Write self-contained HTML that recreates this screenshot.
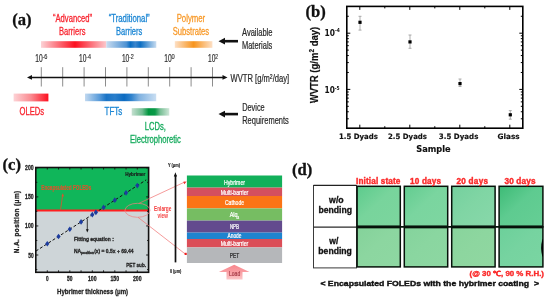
<!DOCTYPE html>
<html><head><meta charset="utf-8"><title>Figure</title>
<style>html,body{margin:0;padding:0;background:#fff;}svg{display:block;}</style></head>
<body><svg width="550" height="300" viewBox="0 0 550 300">
<rect width="550" height="300" fill="#fff"/>
<text x="12.2" y="25.3" font-size="16.6" fill="#111" font-weight="bold" font-family="'Liberation Serif', 'Times New Roman', serif" text-anchor="start"  stroke="#111" stroke-width="0.3">(a)</text>
<text x="305.6" y="16.6" font-size="16.6" fill="#111" font-weight="bold" font-family="'Liberation Serif', 'Times New Roman', serif" text-anchor="start"  stroke="#111" stroke-width="0.3">(b)</text>
<text x="2.6" y="170.0" font-size="16.6" fill="#111" font-weight="bold" font-family="'Liberation Serif', 'Times New Roman', serif" text-anchor="start"  stroke="#111" stroke-width="0.3">(c)</text>
<text x="292.1" y="175.2" font-size="16.6" fill="#111" font-weight="bold" font-family="'Liberation Serif', 'Times New Roman', serif" text-anchor="start"  stroke="#111" stroke-width="0.3">(d)</text>
<defs>
<linearGradient id="gRed" x1="0" x2="1"><stop offset="0" stop-color="#fcd3d6"/><stop offset="0.52" stop-color="#fc1020"/><stop offset="1" stop-color="#fcc8cc"/></linearGradient>
<linearGradient id="gBlue" x1="0" x2="1"><stop offset="0" stop-color="#c8dcf0"/><stop offset="0.4" stop-color="#4f93d3"/><stop offset="0.48" stop-color="#0a6dc2"/><stop offset="0.58" stop-color="#3d86cc"/><stop offset="0.68" stop-color="#0c6ec2"/><stop offset="1" stop-color="#c6dbf0"/></linearGradient>
<linearGradient id="gOr" x1="0" x2="1"><stop offset="0" stop-color="#fde0c6"/><stop offset="0.5" stop-color="#f7941d"/><stop offset="1" stop-color="#fde0c6"/></linearGradient>
<linearGradient id="gOled" x1="0" x2="1"><stop offset="0" stop-color="#fdd3d6"/><stop offset="0.5" stop-color="#fa8a90"/><stop offset="1" stop-color="#fd0f1f"/></linearGradient>
<linearGradient id="gTft" x1="0" x2="1"><stop offset="0" stop-color="#c2d9f0"/><stop offset="0.2" stop-color="#5a9cda"/><stop offset="0.3" stop-color="#1a74c6"/><stop offset="0.42" stop-color="#2a7ecb"/><stop offset="0.55" stop-color="#0c6bc1"/><stop offset="0.65" stop-color="#2f82cd"/><stop offset="0.76" stop-color="#7fb1e0"/><stop offset="1" stop-color="#c9def2"/></linearGradient>
<linearGradient id="gLcd" x1="0" x2="1"><stop offset="0" stop-color="#c5e0d0"/><stop offset="0.28" stop-color="#72bd92"/><stop offset="0.45" stop-color="#00963f"/><stop offset="0.62" stop-color="#0a9a48"/><stop offset="0.76" stop-color="#78bf95"/><stop offset="1" stop-color="#d0e7d9"/></linearGradient>
<linearGradient id="gLoad" x1="0" x2="0" y1="0" y2="1"><stop offset="0" stop-color="#f8868c"/><stop offset="0.5" stop-color="#f99ea3"/><stop offset="1" stop-color="#fcc6c8"/></linearGradient>
</defs>
<rect x="41" y="41.2" width="65.3" height="6.6" fill="url(#gRed)"/>
<rect x="106.3" y="41.2" width="50" height="6.6" fill="url(#gBlue)"/>
<rect x="174.8" y="41.2" width="37.6" height="6.6" fill="url(#gOr)"/>
<rect x="13.6" y="93.6" width="34.8" height="7.8" fill="url(#gOled)"/>
<rect x="85" y="93.6" width="71.2" height="7.6" fill="url(#gTft)"/>
<rect x="131.7" y="108.2" width="37.6" height="7.4" fill="url(#gLcd)"/>
<text x="53" y="21.8" font-size="10.6" fill="#f8242f" font-weight="normal" font-family="'Liberation Sans', Arial, sans-serif" text-anchor="start" textLength="39" lengthAdjust="spacingAndGlyphs"  stroke="#f8242f" stroke-width="0.3">“Advanced”</text>
<text x="59" y="35" font-size="10.6" fill="#f8242f" font-weight="normal" font-family="'Liberation Sans', Arial, sans-serif" text-anchor="start" textLength="26.5" lengthAdjust="spacingAndGlyphs"  stroke="#f8242f" stroke-width="0.3">Barriers</text>
<text x="108.7" y="22" font-size="10.6" fill="#1b86d4" font-weight="normal" font-family="'Liberation Sans', Arial, sans-serif" text-anchor="start" textLength="41" lengthAdjust="spacingAndGlyphs"  stroke="#1b86d4" stroke-width="0.3">“Traditional”</text>
<text x="116" y="35.3" font-size="10.6" fill="#1b86d4" font-weight="normal" font-family="'Liberation Sans', Arial, sans-serif" text-anchor="start" textLength="26.3" lengthAdjust="spacingAndGlyphs"  stroke="#1b86d4" stroke-width="0.3">Barriers</text>
<text x="176.7" y="21.5" font-size="10.6" fill="#f89a2a" font-weight="normal" font-family="'Liberation Sans', Arial, sans-serif" text-anchor="start" textLength="28.5" lengthAdjust="spacingAndGlyphs"  stroke="#f89a2a" stroke-width="0.3">Polymer</text>
<text x="172.7" y="35" font-size="10.6" fill="#f89a2a" font-weight="normal" font-family="'Liberation Sans', Arial, sans-serif" text-anchor="start" textLength="36.5" lengthAdjust="spacingAndGlyphs"  stroke="#f89a2a" stroke-width="0.3">Substrates</text>
<text x="242" y="35.9" font-size="10.6" fill="#2a2a2a" font-weight="normal" font-family="'Liberation Sans', Arial, sans-serif" text-anchor="start" textLength="30.5" lengthAdjust="spacingAndGlyphs"  stroke="#2a2a2a" stroke-width="0.22">Available</text>
<text x="242" y="48.5" font-size="10.6" fill="#2a2a2a" font-weight="normal" font-family="'Liberation Sans', Arial, sans-serif" text-anchor="start" textLength="30.3" lengthAdjust="spacingAndGlyphs"  stroke="#2a2a2a" stroke-width="0.22">Materials</text>
<text x="230.6" y="82" font-size="10.6" fill="#2a2a2a" font-weight="normal" font-family="'Liberation Sans', Arial, sans-serif" text-anchor="start" textLength="58.5" lengthAdjust="spacingAndGlyphs"  stroke="#2a2a2a" stroke-width="0.22">WVTR [g/m<tspan font-size="7" dy="-3.5">2</tspan><tspan dy="3.5">/day]</tspan></text>
<text x="19.6" y="114.6" font-size="10.6" fill="#f8242f" font-weight="normal" font-family="'Liberation Sans', Arial, sans-serif" text-anchor="start" textLength="24.6" lengthAdjust="spacingAndGlyphs"  stroke="#f8242f" stroke-width="0.3">OLEDs</text>
<text x="104.5" y="115" font-size="10.6" fill="#1b86d4" font-weight="normal" font-family="'Liberation Sans', Arial, sans-serif" text-anchor="start" textLength="17.8" lengthAdjust="spacingAndGlyphs"  stroke="#1b86d4" stroke-width="0.3">TFTs</text>
<text x="144.7" y="129.6" font-size="10.6" fill="#14aa5c" font-weight="normal" font-family="'Liberation Sans', Arial, sans-serif" text-anchor="start" textLength="21.2" lengthAdjust="spacingAndGlyphs"  stroke="#14aa5c" stroke-width="0.3">LCDs,</text>
<text x="129.9" y="142.7" font-size="10.6" fill="#14aa5c" font-weight="normal" font-family="'Liberation Sans', Arial, sans-serif" text-anchor="start" textLength="51" lengthAdjust="spacingAndGlyphs"  stroke="#14aa5c" stroke-width="0.3">Electrophoretic</text>
<text x="242.2" y="110.5" font-size="10.6" fill="#2a2a2a" font-weight="normal" font-family="'Liberation Sans', Arial, sans-serif" text-anchor="start" textLength="22.5" lengthAdjust="spacingAndGlyphs"  stroke="#2a2a2a" stroke-width="0.22">Device</text>
<text x="242.2" y="124.1" font-size="10.6" fill="#2a2a2a" font-weight="normal" font-family="'Liberation Sans', Arial, sans-serif" text-anchor="start" textLength="46.6" lengthAdjust="spacingAndGlyphs"  stroke="#2a2a2a" stroke-width="0.22">Requirements</text>
<text x="35.3" y="62.4" font-size="10.8" fill="#2a2a2a" font-weight="normal" font-family="'Liberation Sans', Arial, sans-serif" text-anchor="start" textLength="7.4" lengthAdjust="spacingAndGlyphs"  stroke="#2a2a2a" stroke-width="0.2">10</text>
<text x="42.4" y="59.2" font-size="7.4" fill="#2a2a2a" font-weight="normal" font-family="'Liberation Sans', Arial, sans-serif" text-anchor="start" textLength="5.0" lengthAdjust="spacingAndGlyphs"  stroke="#2a2a2a" stroke-width="0.15">-6</text>
<text x="79.1" y="62.4" font-size="10.8" fill="#2a2a2a" font-weight="normal" font-family="'Liberation Sans', Arial, sans-serif" text-anchor="start" textLength="7.4" lengthAdjust="spacingAndGlyphs"  stroke="#2a2a2a" stroke-width="0.2">10</text>
<text x="86.19999999999999" y="59.2" font-size="7.4" fill="#2a2a2a" font-weight="normal" font-family="'Liberation Sans', Arial, sans-serif" text-anchor="start" textLength="4.8" lengthAdjust="spacingAndGlyphs"  stroke="#2a2a2a" stroke-width="0.15">-4</text>
<text x="121.9" y="62.4" font-size="10.8" fill="#2a2a2a" font-weight="normal" font-family="'Liberation Sans', Arial, sans-serif" text-anchor="start" textLength="7.4" lengthAdjust="spacingAndGlyphs"  stroke="#2a2a2a" stroke-width="0.2">10</text>
<text x="129.0" y="59.2" font-size="7.4" fill="#2a2a2a" font-weight="normal" font-family="'Liberation Sans', Arial, sans-serif" text-anchor="start" textLength="4.8" lengthAdjust="spacingAndGlyphs"  stroke="#2a2a2a" stroke-width="0.15">-2</text>
<text x="164.3" y="62.4" font-size="10.8" fill="#2a2a2a" font-weight="normal" font-family="'Liberation Sans', Arial, sans-serif" text-anchor="start" textLength="7.4" lengthAdjust="spacingAndGlyphs"  stroke="#2a2a2a" stroke-width="0.2">10</text>
<text x="171.4" y="59.2" font-size="7.4" fill="#2a2a2a" font-weight="normal" font-family="'Liberation Sans', Arial, sans-serif" text-anchor="start" textLength="3.2" lengthAdjust="spacingAndGlyphs"  stroke="#2a2a2a" stroke-width="0.15">0</text>
<text x="208.1" y="62.4" font-size="10.8" fill="#2a2a2a" font-weight="normal" font-family="'Liberation Sans', Arial, sans-serif" text-anchor="start" textLength="7.4" lengthAdjust="spacingAndGlyphs"  stroke="#2a2a2a" stroke-width="0.2">10</text>
<text x="215.2" y="59.2" font-size="7.4" fill="#2a2a2a" font-weight="normal" font-family="'Liberation Sans', Arial, sans-serif" text-anchor="start" textLength="2.8" lengthAdjust="spacingAndGlyphs"  stroke="#2a2a2a" stroke-width="0.15">2</text>
<line x1="41.3" y1="67.2" x2="41.3" y2="86.5" stroke="#808080" stroke-width="0.9"/>
<line x1="62.7" y1="67.2" x2="62.7" y2="86.5" stroke="#808080" stroke-width="0.9"/>
<line x1="84.1" y1="67.2" x2="84.1" y2="86.5" stroke="#808080" stroke-width="0.9"/>
<line x1="105.5" y1="67.2" x2="105.5" y2="86.5" stroke="#808080" stroke-width="0.9"/>
<line x1="126.9" y1="67.2" x2="126.9" y2="86.5" stroke="#808080" stroke-width="0.9"/>
<line x1="148.3" y1="67.2" x2="148.3" y2="86.5" stroke="#808080" stroke-width="0.9"/>
<line x1="169.7" y1="67.2" x2="169.7" y2="86.5" stroke="#808080" stroke-width="0.9"/>
<line x1="191.1" y1="67.2" x2="191.1" y2="86.5" stroke="#808080" stroke-width="0.9"/>
<line x1="212.5" y1="67.2" x2="212.5" y2="86.5" stroke="#808080" stroke-width="0.9"/>
<line x1="30" y1="77.4" x2="224" y2="77.4" stroke="#111" stroke-width="1.5"/>
<path d="M27 77.4 L32 75 L32 79.8 Z" fill="#111"/>
<path d="M227.5 77.4 L222.5 75 L222.5 79.8 Z" fill="#111"/>
<line x1="223" y1="41.2" x2="238" y2="41.2" stroke="#111" stroke-width="2.6"/>
<path d="M218.5 41.2 L225 37.800000000000004 L225 44.6 Z" fill="#111"/>
<line x1="223" y1="114.1" x2="238" y2="114.1" stroke="#111" stroke-width="2.6"/>
<path d="M218.5 114.1 L225 110.69999999999999 L225 117.5 Z" fill="#111"/>
<rect x="346.8" y="6.4" width="175.99999999999994" height="121.79999999999998" fill="none" stroke="#000" stroke-width="1.6"/>
<line x1="346.8" y1="118.79" x2="348.8" y2="118.79" stroke="#000" stroke-width="1"/>
<line x1="522.8" y1="118.79" x2="520.8" y2="118.79" stroke="#000" stroke-width="1"/>
<line x1="346.8" y1="111.76" x2="348.8" y2="111.76" stroke="#000" stroke-width="1"/>
<line x1="522.8" y1="111.76" x2="520.8" y2="111.76" stroke="#000" stroke-width="1"/>
<line x1="346.8" y1="106.32" x2="348.8" y2="106.32" stroke="#000" stroke-width="1"/>
<line x1="522.8" y1="106.32" x2="520.8" y2="106.32" stroke="#000" stroke-width="1"/>
<line x1="346.8" y1="101.87" x2="348.8" y2="101.87" stroke="#000" stroke-width="1"/>
<line x1="522.8" y1="101.87" x2="520.8" y2="101.87" stroke="#000" stroke-width="1"/>
<line x1="346.8" y1="98.11" x2="348.8" y2="98.11" stroke="#000" stroke-width="1"/>
<line x1="522.8" y1="98.11" x2="520.8" y2="98.11" stroke="#000" stroke-width="1"/>
<line x1="346.8" y1="94.85" x2="348.8" y2="94.85" stroke="#000" stroke-width="1"/>
<line x1="522.8" y1="94.85" x2="520.8" y2="94.85" stroke="#000" stroke-width="1"/>
<line x1="346.8" y1="91.97" x2="348.8" y2="91.97" stroke="#000" stroke-width="1"/>
<line x1="522.8" y1="91.97" x2="520.8" y2="91.97" stroke="#000" stroke-width="1"/>
<line x1="346.8" y1="89.40" x2="350.3" y2="89.40" stroke="#000" stroke-width="1"/>
<line x1="522.8" y1="89.40" x2="519.3" y2="89.40" stroke="#000" stroke-width="1"/>
<line x1="346.8" y1="72.48" x2="348.8" y2="72.48" stroke="#000" stroke-width="1"/>
<line x1="522.8" y1="72.48" x2="520.8" y2="72.48" stroke="#000" stroke-width="1"/>
<line x1="346.8" y1="62.59" x2="348.8" y2="62.59" stroke="#000" stroke-width="1"/>
<line x1="522.8" y1="62.59" x2="520.8" y2="62.59" stroke="#000" stroke-width="1"/>
<line x1="346.8" y1="55.56" x2="348.8" y2="55.56" stroke="#000" stroke-width="1"/>
<line x1="522.8" y1="55.56" x2="520.8" y2="55.56" stroke="#000" stroke-width="1"/>
<line x1="346.8" y1="50.12" x2="348.8" y2="50.12" stroke="#000" stroke-width="1"/>
<line x1="522.8" y1="50.12" x2="520.8" y2="50.12" stroke="#000" stroke-width="1"/>
<line x1="346.8" y1="45.67" x2="348.8" y2="45.67" stroke="#000" stroke-width="1"/>
<line x1="522.8" y1="45.67" x2="520.8" y2="45.67" stroke="#000" stroke-width="1"/>
<line x1="346.8" y1="41.91" x2="348.8" y2="41.91" stroke="#000" stroke-width="1"/>
<line x1="522.8" y1="41.91" x2="520.8" y2="41.91" stroke="#000" stroke-width="1"/>
<line x1="346.8" y1="38.65" x2="348.8" y2="38.65" stroke="#000" stroke-width="1"/>
<line x1="522.8" y1="38.65" x2="520.8" y2="38.65" stroke="#000" stroke-width="1"/>
<line x1="346.8" y1="35.77" x2="348.8" y2="35.77" stroke="#000" stroke-width="1"/>
<line x1="522.8" y1="35.77" x2="520.8" y2="35.77" stroke="#000" stroke-width="1"/>
<line x1="346.8" y1="33.20" x2="350.3" y2="33.20" stroke="#000" stroke-width="1"/>
<line x1="522.8" y1="33.20" x2="519.3" y2="33.20" stroke="#000" stroke-width="1"/>
<line x1="346.8" y1="16.28" x2="348.8" y2="16.28" stroke="#000" stroke-width="1"/>
<line x1="522.8" y1="16.28" x2="520.8" y2="16.28" stroke="#000" stroke-width="1"/>
<line x1="359.8" y1="128.2" x2="359.8" y2="124.69999999999999" stroke="#000" stroke-width="1"/>
<line x1="359.8" y1="6.4" x2="359.8" y2="9.9" stroke="#000" stroke-width="1"/>
<line x1="384.8" y1="128.2" x2="384.8" y2="126.19999999999999" stroke="#000" stroke-width="1"/>
<line x1="384.8" y1="6.4" x2="384.8" y2="8.4" stroke="#000" stroke-width="1"/>
<line x1="409.8" y1="128.2" x2="409.8" y2="124.69999999999999" stroke="#000" stroke-width="1"/>
<line x1="409.8" y1="6.4" x2="409.8" y2="9.9" stroke="#000" stroke-width="1"/>
<line x1="434.8" y1="128.2" x2="434.8" y2="126.19999999999999" stroke="#000" stroke-width="1"/>
<line x1="434.8" y1="6.4" x2="434.8" y2="8.4" stroke="#000" stroke-width="1"/>
<line x1="459.8" y1="128.2" x2="459.8" y2="124.69999999999999" stroke="#000" stroke-width="1"/>
<line x1="459.8" y1="6.4" x2="459.8" y2="9.9" stroke="#000" stroke-width="1"/>
<line x1="484.8" y1="128.2" x2="484.8" y2="126.19999999999999" stroke="#000" stroke-width="1"/>
<line x1="484.8" y1="6.4" x2="484.8" y2="8.4" stroke="#000" stroke-width="1"/>
<line x1="509.8" y1="128.2" x2="509.8" y2="124.69999999999999" stroke="#000" stroke-width="1"/>
<line x1="509.8" y1="6.4" x2="509.8" y2="9.9" stroke="#000" stroke-width="1"/>
<line x1="360" y1="16.3" x2="360" y2="30.1" stroke="#999" stroke-width="0.8"/>
<line x1="358.5" y1="16.3" x2="361.5" y2="16.3" stroke="#999" stroke-width="0.8"/>
<line x1="358.5" y1="30.1" x2="361.5" y2="30.1" stroke="#999" stroke-width="0.8"/>
<rect x="358.4" y="20.7" width="3.2" height="3.2" fill="#000"/>
<line x1="410" y1="35" x2="410" y2="48.3" stroke="#999" stroke-width="0.8"/>
<line x1="408.5" y1="35" x2="411.5" y2="35" stroke="#999" stroke-width="0.8"/>
<line x1="408.5" y1="48.3" x2="411.5" y2="48.3" stroke="#999" stroke-width="0.8"/>
<rect x="408.4" y="40.3" width="3.2" height="3.2" fill="#000"/>
<line x1="460" y1="79" x2="460" y2="86.5" stroke="#999" stroke-width="0.8"/>
<line x1="458.5" y1="79" x2="461.5" y2="79" stroke="#999" stroke-width="0.8"/>
<line x1="458.5" y1="86.5" x2="461.5" y2="86.5" stroke="#999" stroke-width="0.8"/>
<rect x="458.4" y="82.0" width="3.2" height="3.2" fill="#000"/>
<line x1="510.3" y1="110.6" x2="510.3" y2="119.2" stroke="#999" stroke-width="0.8"/>
<line x1="508.8" y1="110.6" x2="511.8" y2="110.6" stroke="#999" stroke-width="0.8"/>
<line x1="508.8" y1="119.2" x2="511.8" y2="119.2" stroke="#999" stroke-width="0.8"/>
<rect x="508.7" y="113.2" width="3.2" height="3.2" fill="#000"/>
<text x="324.5" y="35.7" font-size="9.4" fill="#111" font-weight="bold" font-family="'DejaVu Sans', Verdana, sans-serif" text-anchor="start" textLength="15.4" lengthAdjust="spacingAndGlyphs" >10<tspan font-size="5.6" dy="-3.4">-4</tspan></text>
<text x="324.5" y="93.4" font-size="9.4" fill="#111" font-weight="bold" font-family="'DejaVu Sans', Verdana, sans-serif" text-anchor="start" textLength="15.2" lengthAdjust="spacingAndGlyphs" >10<tspan font-size="5.6" dy="-3.4">-5</tspan></text>
<text x="358.4" y="139" font-size="7.4" fill="#111" font-weight="bold" font-family="'DejaVu Sans', Verdana, sans-serif" text-anchor="middle" textLength="39" lengthAdjust="spacingAndGlyphs"  stroke="#111" stroke-width="0.15">1.5 Dyads</text>
<text x="407.5" y="139" font-size="7.4" fill="#111" font-weight="bold" font-family="'DejaVu Sans', Verdana, sans-serif" text-anchor="middle" textLength="39" lengthAdjust="spacingAndGlyphs"  stroke="#111" stroke-width="0.15">2.5 Dyads</text>
<text x="458.6" y="139" font-size="7.4" fill="#111" font-weight="bold" font-family="'DejaVu Sans', Verdana, sans-serif" text-anchor="middle" textLength="39.5" lengthAdjust="spacingAndGlyphs"  stroke="#111" stroke-width="0.15">3.5 Dyads</text>
<text x="508.6" y="139" font-size="7.4" fill="#111" font-weight="bold" font-family="'DejaVu Sans', Verdana, sans-serif" text-anchor="middle" textLength="22.3" lengthAdjust="spacingAndGlyphs"  stroke="#111" stroke-width="0.15">Glass</text>
<text x="433.5" y="152.3" font-size="8.4" fill="#111" font-weight="bold" font-family="'DejaVu Sans', Verdana, sans-serif" text-anchor="middle" textLength="34.4" lengthAdjust="spacingAndGlyphs"  stroke="#111" stroke-width="0.15">Sample</text>
<text transform="translate(317.8,65) rotate(-90)" font-size="10.3" font-weight="bold" font-family="'Liberation Sans', Arial, sans-serif" fill="#111" stroke="#111" stroke-width="0.15" text-anchor="middle" textLength="76.6" lengthAdjust="spacingAndGlyphs">WVTR (g/m<tspan font-size="7" dy="-3.9">2</tspan><tspan dy="3.9"> day)</tspan></text>
<rect x="35.8" y="167.5" width="112.8" height="43.0" fill="#10b65a"/>
<rect x="35.8" y="210.5" width="112.8" height="61.80000000000001" fill="#ced5d8"/>
<line x1="35.8" y1="210.5" x2="148.6" y2="210.5" stroke="#ff1f1f" stroke-width="2"/>
<line x1="35.8" y1="251.13" x2="146.2" y2="179.86" stroke="#111" stroke-width="1" stroke-dasharray="3,2"/>
<path d="M47.30 240.91 L49.40 243.71 L47.30 246.51 L45.20 243.71 Z" fill="#1d3c9e"/>
<path d="M58.55 233.64 L60.65 236.44 L58.55 239.24 L56.45 236.44 Z" fill="#1d3c9e"/>
<path d="M69.80 226.38 L71.90 229.18 L69.80 231.98 L67.70 229.18 Z" fill="#1d3c9e"/>
<path d="M81.05 219.12 L83.15 221.92 L81.05 224.72 L78.95 221.92 Z" fill="#1d3c9e"/>
<path d="M92.30 211.86 L94.40 214.66 L92.30 217.46 L90.20 214.66 Z" fill="#1d3c9e"/>
<path d="M95.90 209.53 L98.00 212.33 L95.90 215.13 L93.80 212.33 Z" fill="#1d3c9e"/>
<path d="M103.55 204.59 L105.65 207.39 L103.55 210.19 L101.45 207.39 Z" fill="#1d3c9e"/>
<path d="M114.80 197.33 L116.90 200.13 L114.80 202.93 L112.70 200.13 Z" fill="#1d3c9e"/>
<path d="M126.05 190.07 L128.15 192.87 L126.05 195.67 L123.95 192.87 Z" fill="#1d3c9e"/>
<path d="M137.30 182.81 L139.40 185.61 L137.30 188.41 L135.20 185.61 Z" fill="#1d3c9e"/>
<rect x="35.8" y="167.5" width="112.8" height="104.80000000000001" fill="none" stroke="#111" stroke-width="1.6"/>
<line x1="47.30" y1="272.3" x2="47.30" y2="270.3" stroke="#111" stroke-width="0.9"/>
<line x1="47.30" y1="167.5" x2="47.30" y2="169.5" stroke="#111" stroke-width="0.9"/>
<line x1="58.55" y1="272.3" x2="58.55" y2="270.3" stroke="#111" stroke-width="0.9"/>
<line x1="58.55" y1="167.5" x2="58.55" y2="169.5" stroke="#111" stroke-width="0.9"/>
<line x1="69.80" y1="272.3" x2="69.80" y2="270.3" stroke="#111" stroke-width="0.9"/>
<line x1="69.80" y1="167.5" x2="69.80" y2="169.5" stroke="#111" stroke-width="0.9"/>
<line x1="81.05" y1="272.3" x2="81.05" y2="270.3" stroke="#111" stroke-width="0.9"/>
<line x1="81.05" y1="167.5" x2="81.05" y2="169.5" stroke="#111" stroke-width="0.9"/>
<line x1="92.30" y1="272.3" x2="92.30" y2="270.3" stroke="#111" stroke-width="0.9"/>
<line x1="92.30" y1="167.5" x2="92.30" y2="169.5" stroke="#111" stroke-width="0.9"/>
<line x1="103.55" y1="272.3" x2="103.55" y2="270.3" stroke="#111" stroke-width="0.9"/>
<line x1="103.55" y1="167.5" x2="103.55" y2="169.5" stroke="#111" stroke-width="0.9"/>
<line x1="114.80" y1="272.3" x2="114.80" y2="270.3" stroke="#111" stroke-width="0.9"/>
<line x1="114.80" y1="167.5" x2="114.80" y2="169.5" stroke="#111" stroke-width="0.9"/>
<line x1="126.05" y1="272.3" x2="126.05" y2="270.3" stroke="#111" stroke-width="0.9"/>
<line x1="126.05" y1="167.5" x2="126.05" y2="169.5" stroke="#111" stroke-width="0.9"/>
<line x1="137.30" y1="272.3" x2="137.30" y2="270.3" stroke="#111" stroke-width="0.9"/>
<line x1="137.30" y1="167.5" x2="137.30" y2="169.5" stroke="#111" stroke-width="0.9"/>
<line x1="35.8" y1="269.52" x2="37.3" y2="269.52" stroke="#111" stroke-width="0.9"/>
<line x1="148.6" y1="269.52" x2="147.1" y2="269.52" stroke="#111" stroke-width="0.9"/>
<line x1="35.8" y1="255.00" x2="38.3" y2="255.00" stroke="#111" stroke-width="0.9"/>
<line x1="148.6" y1="255.00" x2="146.1" y2="255.00" stroke="#111" stroke-width="0.9"/>
<line x1="35.8" y1="240.47" x2="37.3" y2="240.47" stroke="#111" stroke-width="0.9"/>
<line x1="148.6" y1="240.47" x2="147.1" y2="240.47" stroke="#111" stroke-width="0.9"/>
<line x1="35.8" y1="225.95" x2="38.3" y2="225.95" stroke="#111" stroke-width="0.9"/>
<line x1="148.6" y1="225.95" x2="146.1" y2="225.95" stroke="#111" stroke-width="0.9"/>
<line x1="35.8" y1="211.43" x2="37.3" y2="211.43" stroke="#111" stroke-width="0.9"/>
<line x1="148.6" y1="211.43" x2="147.1" y2="211.43" stroke="#111" stroke-width="0.9"/>
<line x1="35.8" y1="196.90" x2="38.3" y2="196.90" stroke="#111" stroke-width="0.9"/>
<line x1="148.6" y1="196.90" x2="146.1" y2="196.90" stroke="#111" stroke-width="0.9"/>
<line x1="35.8" y1="182.38" x2="37.3" y2="182.38" stroke="#111" stroke-width="0.9"/>
<line x1="148.6" y1="182.38" x2="147.1" y2="182.38" stroke="#111" stroke-width="0.9"/>
<line x1="35.8" y1="167.85" x2="38.3" y2="167.85" stroke="#111" stroke-width="0.9"/>
<line x1="148.6" y1="167.85" x2="146.1" y2="167.85" stroke="#111" stroke-width="0.9"/>
<text x="33.6" y="257.5" font-size="7" fill="#222" font-weight="bold" font-family="'Liberation Sans', Arial, sans-serif" text-anchor="end" textLength="5.3" lengthAdjust="spacingAndGlyphs"  stroke="#222" stroke-width="0.3">50</text>
<text x="33.6" y="228.45" font-size="7" fill="#222" font-weight="bold" font-family="'Liberation Sans', Arial, sans-serif" text-anchor="end" textLength="8.5" lengthAdjust="spacingAndGlyphs"  stroke="#222" stroke-width="0.3">100</text>
<text x="33.6" y="199.4" font-size="7" fill="#222" font-weight="bold" font-family="'Liberation Sans', Arial, sans-serif" text-anchor="end" textLength="8.5" lengthAdjust="spacingAndGlyphs"  stroke="#222" stroke-width="0.3">150</text>
<text x="33.6" y="170.35000000000002" font-size="7" fill="#222" font-weight="bold" font-family="'Liberation Sans', Arial, sans-serif" text-anchor="end" textLength="8.5" lengthAdjust="spacingAndGlyphs"  stroke="#222" stroke-width="0.3">200</text>
<text x="47.3" y="281" font-size="7" fill="#222" font-weight="bold" font-family="'Liberation Sans', Arial, sans-serif" text-anchor="middle" textLength="2.6" lengthAdjust="spacingAndGlyphs"  stroke="#222" stroke-width="0.3">0</text>
<text x="69.8" y="281" font-size="7" fill="#222" font-weight="bold" font-family="'Liberation Sans', Arial, sans-serif" text-anchor="middle" textLength="5.4" lengthAdjust="spacingAndGlyphs"  stroke="#222" stroke-width="0.3">50</text>
<text x="92.3" y="281" font-size="7" fill="#222" font-weight="bold" font-family="'Liberation Sans', Arial, sans-serif" text-anchor="middle" textLength="8.6" lengthAdjust="spacingAndGlyphs"  stroke="#222" stroke-width="0.3">100</text>
<text x="114.8" y="281" font-size="7" fill="#222" font-weight="bold" font-family="'Liberation Sans', Arial, sans-serif" text-anchor="middle" textLength="8.6" lengthAdjust="spacingAndGlyphs"  stroke="#222" stroke-width="0.3">150</text>
<text x="137.3" y="281" font-size="7" fill="#222" font-weight="bold" font-family="'Liberation Sans', Arial, sans-serif" text-anchor="middle" textLength="8.6" lengthAdjust="spacingAndGlyphs"  stroke="#222" stroke-width="0.3">200</text>
<text x="92.6" y="294" font-size="7.6" fill="#222" font-weight="bold" font-family="'Liberation Sans', Arial, sans-serif" text-anchor="middle" textLength="71" lengthAdjust="spacingAndGlyphs"  stroke="#222" stroke-width="0.3">Hybrimer thickness (μm)</text>
<text transform="translate(18.9,222) rotate(-90)" font-size="6.4" font-weight="bold" font-family="'Liberation Sans', Arial, sans-serif" fill="#222" stroke="#222" stroke-width="0.3" text-anchor="middle" textLength="62.4" lengthAdjust="spacing">N.A. position (μm)</text>
<text x="145.4" y="175.8" font-size="6.1" fill="#1a1a1a" font-weight="bold" font-family="'Liberation Sans', Arial, sans-serif" text-anchor="end" textLength="20.2" lengthAdjust="spacingAndGlyphs"  stroke="#1a1a1a" stroke-width="0.2">Hybrimer</text>
<text x="41.3" y="189.6" font-size="6.5" fill="#e5512c" font-weight="bold" font-family="'Liberation Sans', Arial, sans-serif" text-anchor="start" textLength="50" lengthAdjust="spacingAndGlyphs"  stroke="#e5512c" stroke-width="0.12">Encapsulated FOLEDs</text>
<line x1="60.6" y1="209.5" x2="62.6" y2="195.5" stroke="#e0502c" stroke-width="0.8"/>
<path d="M62.9 193.2 L64 196.6 L61.4 196.3 Z" fill="#e0502c"/>
<line x1="87.3" y1="218.6" x2="87.3" y2="230" stroke="#111" stroke-width="0.8"/>
<path d="M87.3 232.5 L85.9 229.3 L88.7 229.3 Z" fill="#111"/>
<text x="73.9" y="241.1" font-size="6.2" fill="#222" font-weight="bold" font-family="'Liberation Sans', Arial, sans-serif" text-anchor="start" textLength="40" lengthAdjust="spacingAndGlyphs"  stroke="#222" stroke-width="0.3">Fitting equation :</text>
<text x="73.9" y="252.6" font-size="6.2" fill="#222" font-weight="bold" font-family="'Liberation Sans', Arial, sans-serif" text-anchor="start" textLength="59.7" lengthAdjust="spacingAndGlyphs"  stroke="#222" stroke-width="0.3">NA<tspan font-size="4.2" dy="1.5">position</tspan><tspan dy="-1.5">(x) = 0.5x + 69.44</tspan></text>
<text x="146" y="267.3" font-size="6.2" fill="#222" font-weight="bold" font-family="'Liberation Sans', Arial, sans-serif" text-anchor="end" textLength="19.7" lengthAdjust="spacingAndGlyphs"  stroke="#222" stroke-width="0.3">PET sub.</text>
<ellipse cx="137.5" cy="210.3" rx="12.5" ry="7" fill="none" stroke="#f08080" stroke-width="0.7"/>
<line x1="139" y1="203.3" x2="185" y2="181.9" stroke="#f07070" stroke-width="0.7"/>
<path d="M186.6 181.4 L183.2 181.7 L184.4 184.2 Z" fill="#f03030"/>
<line x1="138" y1="217.3" x2="185" y2="253.8" stroke="#f07070" stroke-width="0.7"/>
<rect x="184.6" y="252.8" width="2.2" height="2.2" fill="#f02020"/>
<text x="162.7" y="210.6" font-size="6.8" fill="#f43c3c" font-weight="bold" font-family="'Liberation Sans', Arial, sans-serif" text-anchor="middle" textLength="17.4" lengthAdjust="spacingAndGlyphs" >Enlarge</text>
<text x="162.7" y="217.6" font-size="6.8" fill="#f43c3c" font-weight="bold" font-family="'Liberation Sans', Arial, sans-serif" text-anchor="middle" textLength="10.2" lengthAdjust="spacingAndGlyphs" >view</text>
<line x1="175.5" y1="175" x2="175.5" y2="262.4" stroke="#111" stroke-width="1.7"/>
<path d="M175.4 172.3 L173.8 176.5 L177 176.5 Z" fill="#111"/>
<text x="174" y="166.7" font-size="5.0" fill="#1a1a1a" font-weight="bold" font-family="'Liberation Sans', Arial, sans-serif" text-anchor="middle" textLength="12.2" lengthAdjust="spacingAndGlyphs"  stroke="#1a1a1a" stroke-width="0.15">Y (μm)</text>
<text x="175.6" y="273.0" font-size="5.0" fill="#1a1a1a" font-weight="bold" font-family="'Liberation Sans', Arial, sans-serif" text-anchor="middle" textLength="11.4" lengthAdjust="spacingAndGlyphs"  stroke="#1a1a1a" stroke-width="0.15">0 (μm)</text>
<rect x="186.9" y="175.5" width="95.2" height="12.10" fill="#12b05a"/>
<rect x="186.9" y="187.6" width="95.2" height="8.40" fill="#d4505e"/>
<rect x="186.9" y="196" width="95.2" height="12.40" fill="#fb7416"/>
<rect x="186.9" y="208.4" width="95.2" height="12.20" fill="#76bd62"/>
<rect x="186.9" y="220.6" width="95.2" height="12.00" fill="#634b8e"/>
<rect x="186.9" y="232.6" width="95.2" height="6.40" fill="#1f84cf"/>
<rect x="186.9" y="239" width="95.2" height="8.40" fill="#db4e58"/>
<rect x="186.9" y="247.4" width="95.2" height="15.60" fill="#b5b7ba"/>
<text x="234.5" y="184.55" font-size="6.6" fill="#fff" font-weight="normal" font-family="'Liberation Sans', Arial, sans-serif" text-anchor="middle" textLength="21" lengthAdjust="spacingAndGlyphs"  stroke="#fff" stroke-width="0.22">Hybrimer</text>
<text x="234.5" y="194.8" font-size="6.6" fill="#fff" font-weight="normal" font-family="'Liberation Sans', Arial, sans-serif" text-anchor="middle" textLength="27.5" lengthAdjust="spacingAndGlyphs"  stroke="#fff" stroke-width="0.22">Multi-barrier</text>
<text x="234.5" y="205.2" font-size="6.6" fill="#fff" font-weight="normal" font-family="'Liberation Sans', Arial, sans-serif" text-anchor="middle" textLength="19.2" lengthAdjust="spacingAndGlyphs"  stroke="#fff" stroke-width="0.22">Cathode</text>
<text x="234.5" y="217.4" font-size="6.6" fill="#fff" font-weight="normal" font-family="'Liberation Sans', Arial, sans-serif" text-anchor="middle" textLength="9.5" lengthAdjust="spacingAndGlyphs"  stroke="#fff" stroke-width="0.22">Alq<tspan font-size="3.6" dy="1.3">3</tspan></text>
<text x="234.5" y="229.2" font-size="6.6" fill="#fff" font-weight="normal" font-family="'Liberation Sans', Arial, sans-serif" text-anchor="middle" textLength="9.2" lengthAdjust="spacingAndGlyphs"  stroke="#fff" stroke-width="0.22">NPB</text>
<text x="234.5" y="238.4" font-size="6.6" fill="#fff" font-weight="normal" font-family="'Liberation Sans', Arial, sans-serif" text-anchor="middle" textLength="14" lengthAdjust="spacingAndGlyphs"  stroke="#fff" stroke-width="0.22">Anode</text>
<text x="234.5" y="245.79999999999998" font-size="6.6" fill="#fff" font-weight="normal" font-family="'Liberation Sans', Arial, sans-serif" text-anchor="middle" textLength="27.5" lengthAdjust="spacingAndGlyphs"  stroke="#fff" stroke-width="0.22">Multi-barrier</text>
<text x="234.5" y="258.2" font-size="6.6" fill="#222" font-weight="normal" font-family="'Liberation Sans', Arial, sans-serif" text-anchor="middle" textLength="9.4" lengthAdjust="spacingAndGlyphs"  stroke="#222" stroke-width="0.22">PET</text>
<path d="M234.2 264.8 L249.5 272 L242.5 272 L242.5 279.4 L226.5 279.4 L226.5 272 L218.9 272 Z" fill="url(#gLoad)"/>
<text x="234.6" y="276.2" font-size="6.4" fill="#a83c48" font-weight="normal" font-family="'Liberation Sans', Arial, sans-serif" text-anchor="middle" textLength="11.2" lengthAdjust="spacingAndGlyphs"  stroke="#a83c48" stroke-width="0.2">Load</text>
<rect x="313.5" y="185.5" width="43" height="82.4" fill="#fff" stroke="#3a3a3a" stroke-width="1"/>
<line x1="313.5" y1="185.4" x2="356.5" y2="185.4" stroke="#222" stroke-width="1.1"/>
<defs><linearGradient id="c00" x1="0" y1="0" x2="1" y2="1"><stop offset="0" stop-color="#5ccb8c"/><stop offset="0.45" stop-color="#78d49c"/><stop offset="1" stop-color="#7cd59e"/></linearGradient><linearGradient id="c10" x1="0" y1="0" x2="1" y2="1"><stop offset="0" stop-color="#62cc90"/><stop offset="0.45" stop-color="#7ad59f"/><stop offset="1" stop-color="#7ed6a1"/></linearGradient><linearGradient id="c20" x1="0" y1="0" x2="1" y2="1"><stop offset="0" stop-color="#74d09e"/><stop offset="0.45" stop-color="#80d5a4"/><stop offset="1" stop-color="#88d8aa"/></linearGradient><linearGradient id="c30" x1="0" y1="0" x2="1" y2="1"><stop offset="0" stop-color="#3dbb76"/><stop offset="0.45" stop-color="#5ecb90"/><stop offset="1" stop-color="#66ce95"/></linearGradient><linearGradient id="c01" x1="0" y1="0" x2="1" y2="1"><stop offset="0" stop-color="#84d29a"/><stop offset="0.45" stop-color="#8cd6a0"/><stop offset="1" stop-color="#8ed7a2"/></linearGradient><linearGradient id="c11" x1="0" y1="0" x2="1" y2="1"><stop offset="0" stop-color="#84d39c"/><stop offset="0.45" stop-color="#8ad6a0"/><stop offset="1" stop-color="#8dd7a2"/></linearGradient><linearGradient id="c21" x1="0" y1="0" x2="1" y2="1"><stop offset="0" stop-color="#88d49c"/><stop offset="0.45" stop-color="#8dd69f"/><stop offset="1" stop-color="#90d7a1"/></linearGradient><linearGradient id="c31" x1="0" y1="0" x2="1" y2="1"><stop offset="0" stop-color="#6cd09a"/><stop offset="0.45" stop-color="#76d3a0"/><stop offset="1" stop-color="#7ad5a2"/></linearGradient></defs>
<rect x="357.09999999999997" y="186.29999999999998" width="43.200000000000024" height="39.90000000000001" fill="url(#c00)" stroke="#06120a" stroke-width="1.5"/>
<rect x="357.09999999999997" y="227.6" width="43.200000000000024" height="39.30000000000002" fill="url(#c01)" stroke="#06120a" stroke-width="1.5"/>
<rect x="404.3" y="186.29999999999998" width="43.399999999999956" height="39.90000000000001" fill="url(#c10)" stroke="#06120a" stroke-width="1.5"/>
<rect x="404.3" y="227.6" width="43.399999999999956" height="39.30000000000002" fill="url(#c11)" stroke="#06120a" stroke-width="1.5"/>
<rect x="451.7" y="186.29999999999998" width="43.40000000000001" height="39.90000000000001" fill="url(#c20)" stroke="#06120a" stroke-width="1.5"/>
<rect x="451.7" y="227.6" width="43.40000000000001" height="39.30000000000002" fill="url(#c21)" stroke="#06120a" stroke-width="1.5"/>
<rect x="499.09999999999997" y="186.29999999999998" width="43.80000000000005" height="39.90000000000001" fill="url(#c30)" stroke="#06120a" stroke-width="1.5"/>
<rect x="499.09999999999997" y="227.6" width="43.80000000000005" height="39.30000000000002" fill="url(#c31)" stroke="#06120a" stroke-width="1.5"/>
<line x1="313.5" y1="227.1" x2="356.6" y2="227.1" stroke="#2a2a2a" stroke-width="1.1"/>
<line x1="356.4" y1="226.9" x2="543.6" y2="226.9" stroke="#06120a" stroke-width="1.6"/>
<path d="M542.4 239.2 Q539.9 248 542.4 256.6 L543 256.6 L543 239.2 Z" fill="#000"/>
<text x="378.2" y="183.6" font-size="8.2" fill="#fb2a2a" font-weight="bold" font-family="'Liberation Sans', Arial, sans-serif" text-anchor="middle" textLength="44.4" lengthAdjust="spacing"  stroke="#fb2a2a" stroke-width="0.4">Initial state</text>
<text x="425.6" y="183.6" font-size="8.2" fill="#fb2a2a" font-weight="bold" font-family="'Liberation Sans', Arial, sans-serif" text-anchor="middle" textLength="31" lengthAdjust="spacing"  stroke="#fb2a2a" stroke-width="0.4">10 days</text>
<text x="472.2" y="183.6" font-size="8.2" fill="#fb2a2a" font-weight="bold" font-family="'Liberation Sans', Arial, sans-serif" text-anchor="middle" textLength="31.6" lengthAdjust="spacing"  stroke="#fb2a2a" stroke-width="0.4">20 days</text>
<text x="520" y="183.6" font-size="8.2" fill="#fb2a2a" font-weight="bold" font-family="'Liberation Sans', Arial, sans-serif" text-anchor="middle" textLength="31.2" lengthAdjust="spacing"  stroke="#fb2a2a" stroke-width="0.4">30 days</text>
<text x="336.4" y="202.6" font-size="8.2" fill="#111" font-weight="bold" font-family="'Liberation Sans', Arial, sans-serif" text-anchor="middle" textLength="14.6" lengthAdjust="spacingAndGlyphs"  stroke="#111" stroke-width="0.3">w/o</text>
<text x="335.2" y="212.6" font-size="8.2" fill="#111" font-weight="bold" font-family="'Liberation Sans', Arial, sans-serif" text-anchor="middle" textLength="33.6" lengthAdjust="spacingAndGlyphs"  stroke="#111" stroke-width="0.3">bending</text>
<text x="333.9" y="243.9" font-size="8.2" fill="#111" font-weight="bold" font-family="'Liberation Sans', Arial, sans-serif" text-anchor="middle" textLength="9.1" lengthAdjust="spacingAndGlyphs"  stroke="#111" stroke-width="0.3">w/</text>
<text x="335.1" y="254" font-size="8.2" fill="#111" font-weight="bold" font-family="'Liberation Sans', Arial, sans-serif" text-anchor="middle" textLength="33.5" lengthAdjust="spacingAndGlyphs"  stroke="#111" stroke-width="0.3">bending</text>
<text x="506.8" y="275.9" font-size="7.0" fill="#fb2a2a" font-weight="bold" font-family="'Liberation Sans', Arial, sans-serif" text-anchor="middle" textLength="74.4" lengthAdjust="spacingAndGlyphs"  stroke="#fb2a2a" stroke-width="0.35">(@ 30 ℃, 90 % R.H.)</text>
<text x="429.7" y="286" font-size="7.9" fill="#111" font-weight="bold" font-family="'Liberation Sans', Arial, sans-serif" text-anchor="middle" textLength="218.6" lengthAdjust="spacingAndGlyphs"  stroke="#111" stroke-width="0.4">&lt; Encapsulated FOLEDs with the hybrimer coating &#160;&gt;</text>
</svg></body></html>
